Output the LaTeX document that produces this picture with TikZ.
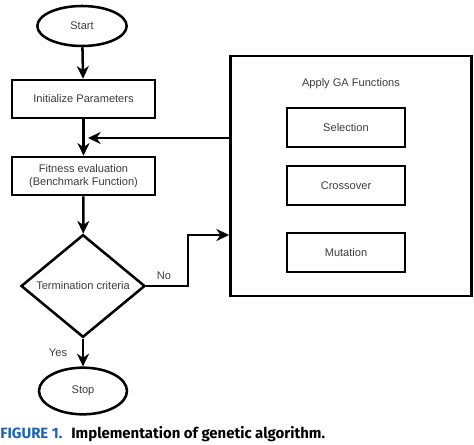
\documentclass[tikz,border=0pt]{standalone}
\usepackage{fontspec}
\setmainfont{Liberation Sans}
\newfontfamily\capfont{Fira Sans}
\usetikzlibrary{shapes.geometric,arrows.meta,calc}
\definecolor{txtgray}{RGB}{60,60,60}
\definecolor{capblue}{RGB}{30,100,180}
\tikzset{
  lw/.style={line width=1.9pt},
  txtf/.style={font=\fontsize{8.3}{10}\selectfont, text=txtgray},
  boxn/.style={draw, lw, rectangle, txtf, align=center, inner sep=0pt},
  ellipsen/.style={draw, lw, ellipse, txtf, inner sep=0pt},
  diamn/.style={draw, lw, diamond, txtf, inner sep=0pt},
  lab/.style={txtf, inner sep=0pt},
  arr/.style={lw, -{Stealth[length=9.5pt,width=9pt,inset=3pt]}},
  conn/.style={lw}
}
\begin{document}
\begin{tikzpicture}[x=0.75pt,y=-0.75pt]
\useasboundingbox (0,0) rectangle (474,445);
\node[ellipsen, minimum width=67pt, minimum height=30pt] (start) at (82,26) {Start};
\node[boxn, minimum width=107pt, minimum height=28.5pt] (init) at (83.5,99) {Initialize Parameters};
\node[boxn, minimum width=107pt, minimum height=28.5pt] (fit) at (83.5,176) {Fitness evaluation\\(Benchmark Function)};
\node[diamn, minimum width=93pt, minimum height=77pt] (term) at (83,286) {Termination criteria};
\node[ellipsen, minimum width=66pt, minimum height=35pt] (stop) at (83,391) {Stop};
\node[draw, lw, rectangle, minimum width=181pt, minimum height=180pt, inner sep=0pt] (ga) at (351,176) {};
\node[lab] (gal) at (351,84) {Apply GA Functions};
\node[boxn, minimum width=88.5pt, minimum height=29pt] (sel) at (346,127.5) {Selection};
\node[boxn, minimum width=88.5pt, minimum height=29pt] (cross) at (346,185.5) {Crossover};
\node[boxn, minimum width=88.5pt, minimum height=29pt] (mut) at (346,252.5) {Mutation};
\draw[arr] (start) -- (init);
\draw[arr] (init) -- (fit);
\draw[arr] (fit) -- (term);
\draw[arr] (term) -- (stop);
\node[lab] (yes) at (58,353) {Yes};
\coordinate (fbin) at (ga.west |- 0,138);
\coordinate (fbtip) at (88,138);
\draw[arr] (fbin) -- (fbtip);
\coordinate (elb) at (188,286);
\coordinate (gain) at (ga.west |- 0,235);
\draw[arr] (term.east) -- (elb) |- (gain);
\node[lab] (no) at (164,276) {No};
\node[anchor=west, inner sep=0pt, font=\capfont\bfseries\fontsize{11.2}{13}\selectfont] (cap) at (0,434) {\textcolor{capblue}{FIGURE 1.}\hspace{0.6em}Implementation of genetic algorithm.};
\end{tikzpicture}
\end{document}
